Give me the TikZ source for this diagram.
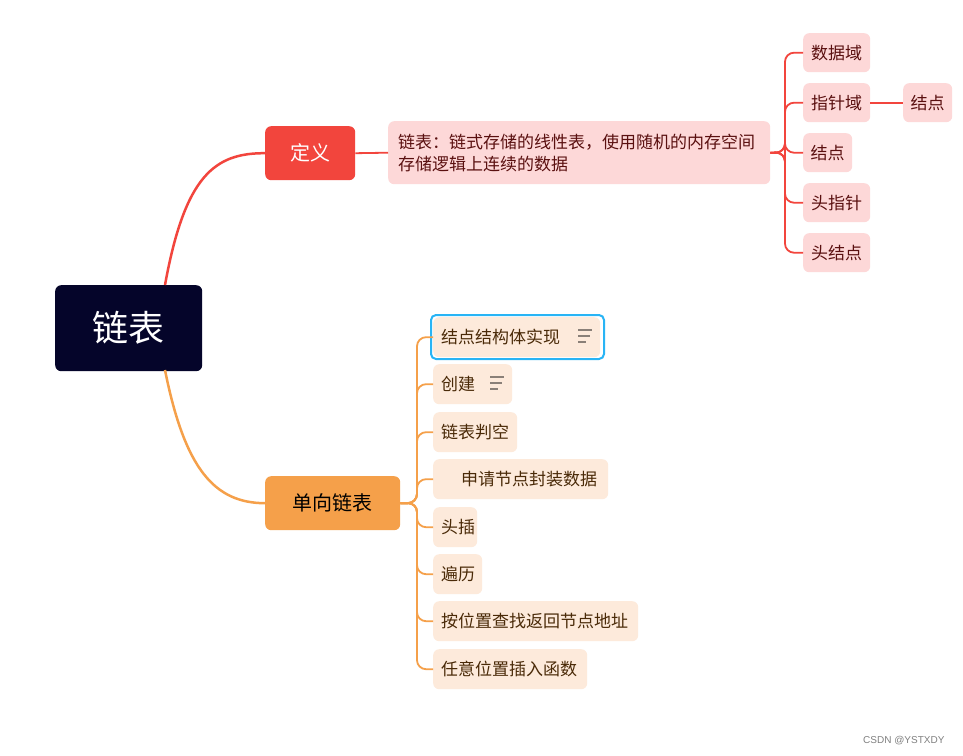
\documentclass[tikz,border=0pt]{standalone}
\usepackage{fontspec}
\setmainfont{Noto Sans CJK SC}
\setsansfont{Liberation Sans}
\begin{document}
\begin{tikzpicture}[x=1pt,y=-1pt,
  box/.style={rounded corners=6pt,inner sep=0pt,anchor=north west},
  pk/.style={box,fill=pinkbg,text=pinktx,font=\fontsize{17}{22}\selectfont},
  og/.style={box,fill=orbg,text=ortx,font=\fontsize{17}{22}\selectfont},
  rl/.style={draw=redln,line width=1.8pt,rounded corners=9pt},
  ol/.style={draw=orln,line width=1.8pt,rounded corners=9pt},
  ic/.style={draw=icon,line width=1.3pt}]
\definecolor{pinkbg}{HTML}{FDD8D8}
\definecolor{pinktx}{HTML}{5A1010}
\definecolor{orbg}{HTML}{FDEADB}
\definecolor{ortx}{HTML}{4A2A08}
\definecolor{redln}{HTML}{F2453D}
\definecolor{orln}{HTML}{F5A04A}
\definecolor{icon}{HTML}{8A8078}
\useasboundingbox[fill=white] (0,0) rectangle (963,755);
% root
\node[box,fill={rgb,255:red,5;green,5;blue,42},minimum width=147pt,minimum height=86pt,text=white,font=\fontsize{36}{40}\selectfont] (root) at (55,285) {\makebox[147pt]{链表}};
\coordinate (rt) at (165,285);
\coordinate (rb) at (165,370);
% def
\node[box,fill=redln,minimum width=90pt,minimum height=54pt,text=white,font=\fontsize{20}{24}\selectfont] (def) at (265,126) {\makebox[90pt]{定义}};
\node[pk,minimum width=382pt,minimum height=63pt,align=left] (dtext) at (388,121) {\hspace{8pt}\parbox{370pt}{链表：链式存储的线性表，使用随机的内存空间\\存储逻辑上连续的数据}};
\draw[redln,line width=2.5pt] (rt) .. controls (185,175) and (215,153) .. (def.west);
\draw[redln,line width=1.8pt] (def.east) -- (dtext.west);
% right children
\newcommand{\pknode}[4]{\node[pk,minimum width=#3pt,minimum height=39pt] (#1) at #2 {\makebox[#3pt]{#4}};}
\pknode{a1}{(803,33)}{67}{数据域}
\pknode{a2}{(803,83)}{67}{指针域}
\pknode{a3}{(803,133)}{49}{结点}
\pknode{a4}{(803,183)}{67}{头指针}
\pknode{a5}{(803,233)}{67}{头结点}
\pknode{b1}{(903,83)}{49}{结点}
\foreach \c in {a1,a2,a3,a4,a5}{\draw[rl] (dtext.east) -- (785,152.5) |- (\c.west);}
\draw[redln,line width=1.8pt] (a2.east) -- (b1.west);
% single list
\node[box,fill=orln,minimum width=135pt,minimum height=54pt,text=black,font=\fontsize{20}{24}\selectfont] (sl) at (265,476) {\makebox[135pt]{单向链表}};
\draw[orln,line width=2.5pt] (rb) .. controls (185,470) and (215,503) .. (sl.west);
\node[draw={rgb,255:red,40;green,180;blue,245},line width=2pt,rounded corners=5pt,minimum width=173pt,minimum height=44pt,inner sep=0pt,anchor=north west] (hl) at (430,314) {};
\newcommand{\onode}[4]{\node[og,minimum width=#3pt,minimum height=40pt] (#1) at #2 {\makebox[#3pt][l]{\hspace{8pt}#4}};}
\onode{c1}{(433,317)}{167}{结点结构体实现}
\onode{c2}{(433,364)}{79}{创建}
\onode{c3}{(433,412)}{84}{链表判空}
\onode{c4}{(433,459)}{175}{\hspace{20pt}申请节点封装数据}
\onode{c5}{(433,507)}{44}{头插}
\onode{c6}{(433,554)}{49}{遍历}
\onode{c7}{(433,601)}{205}{按位置查找返回节点地址}
\onode{c8}{(433,649)}{154}{任意位置插入函数}
\foreach \c in {c1,c2,c3,c4,c5,c6,c7,c8}{\draw[ol] (sl.east) -- (417,503) |- (\c.west);}
% note icons
\draw[ic] (578,330) -- (592,330) (578,336) -- (590,336) (578,342) -- (586,342);
\draw[ic] (490,377) -- (504,377) (490,383) -- (502,383) (490,389) -- (498,389);
% watermark
\node[anchor=east,text=gray,font=\sffamily\fontsize{10}{12}\selectfont] (wm) at (948,741) {CSDN @YSTXDY};
\end{tikzpicture}
\end{document}
